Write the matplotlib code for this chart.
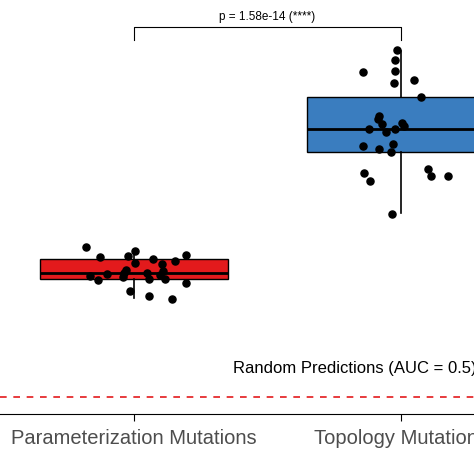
import matplotlib
matplotlib.use("Agg")
import matplotlib.pyplot as plt
import numpy as np

categories = ["Parameterization Mutations", "Topology Mutations"]
colors = ["#E31A1C", "#3A7DBF"]
# box stats (AUC)
q1 = [0.618, 0.745]
med = [0.624, 0.768]
q3 = [0.638, 0.800]
whislo = [0.599, 0.684]
whishi = [0.647, 0.846]
# jittered points: x (category position + jitter), y (AUC)
param_x = [0.819, 0.873, 0.978, 1.004, 1.004, 1.071, 1.105, 1.154, 1.195, 0.835, 0.865, 0.899,
           0.959, 0.963, 0.970, 1.049, 1.056, 1.097, 1.109, 1.116, 1.195, 0.985, 1.056, 1.142]
param_y = [0.650, 0.640, 0.641, 0.646, 0.634, 0.638, 0.633, 0.636, 0.642, 0.621, 0.617, 0.623,
           0.620, 0.624, 0.627, 0.624, 0.618, 0.622, 0.626, 0.618, 0.614, 0.606, 0.601, 0.598]
topo_x = [1.985, 1.978, 1.858, 1.978, 1.974, 2.049, 2.075, 1.918, 1.914, 1.929, 1.880, 1.944,
          1.978, 2.004, 2.011, 1.858, 1.918, 1.970, 1.963, 1.862, 1.884, 2.101, 2.112, 2.176, 1.966]
topo_y = [0.847, 0.837, 0.825, 0.826, 0.814, 0.817, 0.800, 0.781, 0.778, 0.773, 0.768, 0.765,
          0.768, 0.774, 0.771, 0.751, 0.748, 0.753, 0.745, 0.724, 0.716, 0.728, 0.721, 0.721, 0.683]
random_auc = 0.5
p_text = "p = 1.58e-14 (****)"

plt.rcParams['font.family'] = ['Liberation Sans', 'DejaVu Sans']
fig = plt.figure(figsize=(4.74, 4.74), dpi=100)
ax = fig.add_axes([0, 0, 1, 1])
ax.set_xlim(0.498, 2.273)
ax.set_ylim(0.423, 0.897)

stats = []
for i in range(2):
    stats.append(dict(q1=q1[i], med=med[i], q3=q3[i], whislo=whislo[i], whishi=whishi[i],
                      fliers=[], label=categories[i]))
bp = ax.bxp(stats, positions=[1, 2], widths=0.704, patch_artist=True, showcaps=False,
            boxprops=dict(linewidth=1.0, edgecolor="black"),
            medianprops=dict(color="black", linewidth=2),
            whiskerprops=dict(color="black", linewidth=1.2))
for patch, c in zip(bp["boxes"], colors):
    patch.set_facecolor(c)

ax.scatter(param_x, param_y, s=26, color="black", zorder=3)
ax.scatter(topo_x, topo_y, s=26, color="black", zorder=3)

ax.axhline(random_auc, color="#E31A1C", linestyle=(0, (4, 4)), linewidth=1.2)
ax.text(1.371, 0.529, "Random Predictions (AUC = 0.5)", fontsize=12, va="center", ha="left",
        color="black")

ax.plot([1, 1, 2, 2], [0.857, 0.870, 0.870, 0.857], color="black", linewidth=0.8)
ax.text(1.5, 0.880, p_text, ha="center", va="center", fontsize=8.5)

for s in ["top", "right", "left"]:
    ax.spines[s].set_visible(False)
ax.spines["bottom"].set_position(("data", 0.483))
ax.set_yticks([])
ax.set_xticks([1, 2])
ax.set_xticklabels(categories, fontsize=14.5, color="#4D4D4D")
ax.tick_params(axis="x", length=5, pad=6)
fig.savefig("out.png", dpi=100)
